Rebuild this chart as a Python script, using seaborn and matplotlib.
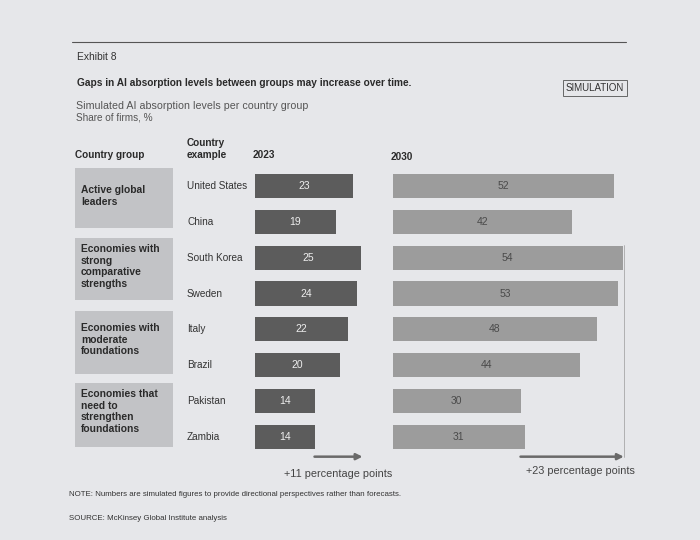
import matplotlib
matplotlib.use("Agg")
import matplotlib.pyplot as plt
import matplotlib.patches as mpatches
import seaborn as sns
import pandas as pd

countries = ["United States", "China", "South Korea", "Sweden", "Italy", "Brazil", "Pakistan", "Zambia"]
values_2023 = [23, 19, 25, 24, 22, 20, 14, 14]
values_2030 = [52, 42, 54, 53, 48, 44, 30, 31]
groups = ["Active global\nleaders", "Economies with\nstrong\ncomparative\nstrengths",
          "Economies with\nmoderate\nfoundations", "Economies that\nneed to\nstrengthen\nfoundations"]
gap_2023_label = "+11 percentage points"
gap_2030_label = "+23 percentage points"

sns.set_theme(style="white")
plt.rcParams["font.family"] = ["Liberation Sans", "DejaVu Sans"]

BG = "#e6e7ea"
DARK = "#5c5c5c"
MID = "#9c9c9c"
BOX = "#c2c3c6"
TXT = "#2a2a2a"

W, H = 700, 540
fig = plt.figure(figsize=(7, 5.4), dpi=100, facecolor=BG)

def fx(px):
    return px / W

def fy(py):
    return 1 - py / H

PXU = 4.25        # pixels per unit
ROW = 35.86       # pixels per row
TOP = 168.0       # pixel of ylim top (-0.5)
YMAX = 8.2
axh = (YMAX + 0.5) * ROW

df = pd.DataFrame({"country": countries, "y2023": values_2023, "y2030": values_2030})

def make_ax(x0, xmax):
    ax = fig.add_axes([fx(x0), fy(TOP + axh), xmax * PXU / W, axh / H])
    ax.set_facecolor("none")
    return ax

ax1 = make_ax(255, 30)
ax2 = make_ax(393, 60)

sns.barplot(data=df, y="country", x="y2023", order=countries, color=DARK,
            saturation=1, width=0.67, ax=ax1, orient="h", linewidth=0, edgecolor="none")
sns.barplot(data=df, y="country", x="y2030", order=countries, color=MID,
            saturation=1, width=0.67, ax=ax2, orient="h", linewidth=0, edgecolor="none")

for ax, col, xmax, tc in [(ax1, "y2023", 30, "#eeeeee"), (ax2, "y2030", 60, "#4a4a4a")]:
    ax.set_xlim(0, xmax)
    ax.set_ylim(YMAX, -0.5)
    ax.axis("off")
    for i, v in enumerate(df[col]):
        ax.text(v / 2, i, f"{v}", ha="center", va="center", fontsize=7.5, color=tc)

# range arrows
for ax, vals, vline in [(ax1, values_2023, False), (ax2, values_2030, True)]:
    lo, hi = min(vals), max(vals)
    if vline:
        ax.plot([hi + 0.3, hi + 0.3], [2 - 0.35, 7.55], color="#9a9a9a", lw=0.5)
    ax.annotate("", xy=(hi + 0.3, 7.55), xytext=(lo, 7.55),
                arrowprops=dict(arrowstyle="-|>", color="#6a6a6a", lw=1.8, mutation_scale=9,
                                shrinkA=0, shrinkB=0))
fig.text(fx(338), fy(474), gap_2023_label, ha="center", va="center", fontsize=7.8, color="#444")
fig.text(fx(580), fy(471), gap_2030_label, ha="center", va="center", fontsize=7.8, color="#444")

# group boxes
box_rows = [(168, 228), (238, 300), (311, 374), (383, 447)]
text_offsets = [17, 6, 12, 6]
for (y0, y1), g, off in zip(box_rows, groups, text_offsets):
    fig.add_artist(mpatches.Rectangle((fx(75), fy(y1)), fx(173) - fx(75), fy(y0) - fy(y1),
                                      transform=fig.transFigure, facecolor=BOX, edgecolor="none"))
    fig.text(fx(81), fy(y0 + off), g, ha="left", va="top", fontsize=7.4, fontweight="bold",
             color=TXT, linespacing=1.2)

# country labels
for i, c in enumerate(countries):
    fig.text(fx(187), fy(186 + ROW * i), c, ha="left", va="center", fontsize=7.2, color="#333")

# headers
fig.text(fx(75), fy(155), "Country group", ha="left", va="center", fontsize=7.2, fontweight="bold", color=TXT)
fig.text(fx(187), fy(149), "Country\nexample", ha="left", va="center", fontsize=7.2, fontweight="bold",
         color=TXT, linespacing=1.2)
fig.text(fx(253), fy(155), "2023", ha="left", va="center", fontsize=7.2, fontweight="bold", color=TXT)
fig.text(fx(391), fy(157), "2030", ha="left", va="center", fontsize=7.2, fontweight="bold", color=TXT)

# top line and titles
fig.add_artist(plt.Line2D([fx(72), fx(626)], [fy(42), fy(42)], transform=fig.transFigure,
                          color="#555", lw=0.8))
fig.text(fx(77), fy(57), "Exhibit 8", ha="left", va="center", fontsize=7.4, color="#333")
fig.text(fx(77), fy(83), "Gaps in AI absorption levels between groups may increase over time.",
         ha="left", va="center", fontsize=7.3, fontweight="bold", color=TXT)
fig.text(fx(76), fy(106), "Simulated AI absorption levels per country group", ha="left", va="center",
         fontsize=7.7, color="#555")
fig.text(fx(76), fy(118), "Share of firms, %", ha="left", va="center", fontsize=7.2, color="#555")

fig.text(fx(595), fy(88), "SIMULATION", ha="center", va="center", fontsize=7, color="#333",
         bbox=dict(boxstyle="square,pad=0.3", facecolor="none", edgecolor="#666", lw=0.7))

fig.text(fx(69), fy(494), "NOTE: Numbers are simulated figures to provide directional perspectives rather than forecasts.",
         ha="left", va="center", fontsize=5.7, color="#333")
fig.text(fx(69), fy(519), "SOURCE: McKinsey Global Institute analysis", ha="left", va="center",
         fontsize=5.7, color="#333")

fig.savefig("out.png", dpi=100, facecolor=BG)
